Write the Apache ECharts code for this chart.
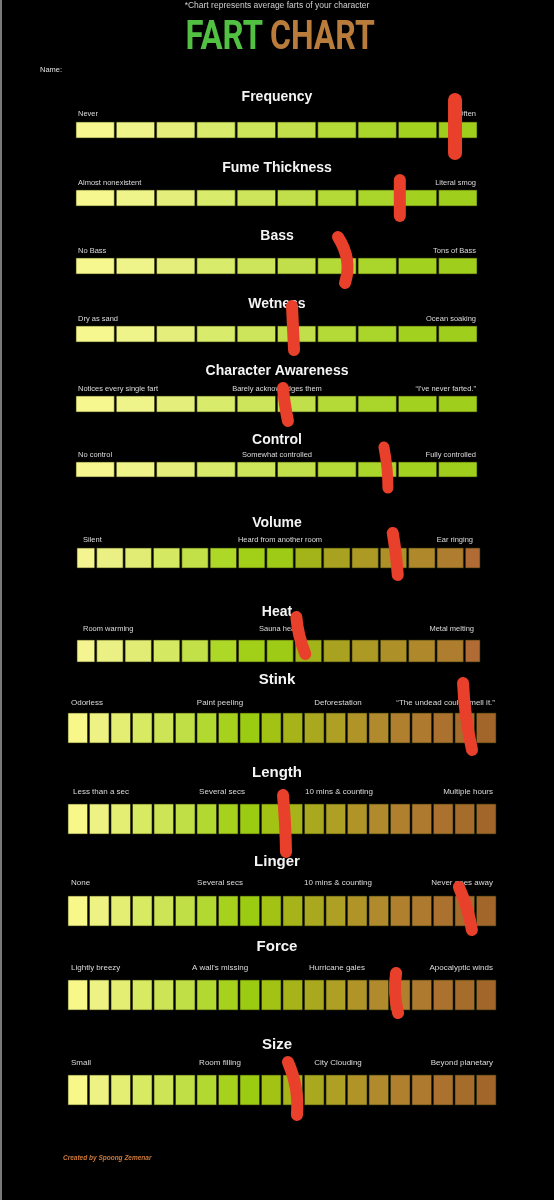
<html>
<head>
<meta charset="utf-8">
<!-- 引入 echarts.js -->
<script src="https://cdn.jsdelivr.net/npm/echarts@6/dist/echarts.min.js"></script>
<style>
	body{margin:0;padding:0;background:#000;}
	#main{width:554px;height:1200px;}
</style>
</head>
<body>
<div id="main"></div>
<script type="text/javascript">
	// 各项名称
	var scaleNames = ['Frequency', 'Fume Thickness', 'Bass', 'Wetness', 'Character Awareness', 'Control',
		'Volume', 'Heat', 'Stink', 'Length', 'Linger', 'Force', 'Size'];
	// 每一条的格子数
	var cellCounts = [10, 10, 10, 10, 10, 10, 15, 15, 20, 20, 20, 20, 20];
	// 红色记号的位置 (格子为单位, 0 = 最左)
	var ratings = [9.43, 8.06, 6.75, 5.41, 5.21, 7.74, 11.58, 8.18, 18.56, 10.14, 18.6, 15.26, 10.65];
	// 刻度文字
	var scaleLabels = [
		['Never', 'Often'],
		['Almost nonexistent', 'Literal smog'],
		['No Bass', 'Tons of Bass'],
		['Dry as sand', 'Ocean soaking'],
		['Notices every single fart', 'Barely acknowledges them', '\u201cI\'ve never farted.\u201d'],
		['No control', 'Somewhat controlled', 'Fully controlled'],
		['Silent', 'Heard from another room', 'Ear ringing'],
		['Room warming', 'Sauna heat', 'Metal melting'],
		['Odorless', 'Paint peeling', 'Deforestation', '\u201cThe undead could smell it.\u201d'],
		['Less than a sec', 'Several secs', '10 mins & counting', 'Multiple hours'],
		['None', 'Several secs', '10 mins & counting', 'Never goes away'],
		['Lightly breezy', 'A wall\'s missing', 'Hurricane gales', 'Apocalyptic winds'],
		['Small', 'Room filling', 'City Clouding', 'Beyond planetary']
	];

	// 格子颜色
	var colors10 = ['#f7f78f', '#eef38a', '#e3ef7a', '#d8eb6a', '#cde55a', '#c1df4a', '#b4da38', '#aad52a', '#a3d120', '#a0ce1c'];
	var colors15 = ['#f4f490', '#eaf084', '#e0ec74', '#d4e862', '#c2e048', '#aed828', '#a2d018', '#9ecc16', '#a2b41a',
		'#a8a220', '#ac9a24', '#ae9028', '#b0882c', '#ae7e2e', '#b06c34'];
	var colors20 = ['#f7f78a', '#eef282', '#e4ee72', '#d8ea62', '#cde456', '#c0de46', '#b2d832', '#a6d21e', '#9ccc12', '#a2c214',
		'#a6b41a', '#aaa81e', '#aea024', '#b09428', '#b08a2c', '#b0802e', '#ae7a30', '#aa722e', '#a66c2c', '#a2662a'];

	// 布局: 条的位置, 标题/文字位置, 红色记号的样式
	var layout = [
		{top: 122, h: 16, left: 75, width: 403, min: 0, max: 10, ty: 97, ly: 114, ts: 14, ls: 7.5, lx: [[78, 'left'], [476, 'right']], mk: [22, 15, 0, 0, 14]},
		{top: 190, h: 16, left: 75, width: 403, min: 0, max: 10, ty: 168, ly: 183, ts: 14, ls: 7.5, lx: [[78, 'left'], [476, 'right']], mk: [10, 10, 0, 0, 12]},
		{top: 258, h: 16, left: 75, width: 403, min: 0, max: 10, ty: 236, ly: 251, ts: 14, ls: 7.5, lx: [[78, 'left'], [476, 'right']], mk: [21, 9, -9, -2, 12]},
		{top: 326, h: 16, left: 75, width: 403, min: 0, max: 10, ty: 304, ly: 319, ts: 14, ls: 7.5, lx: [[78, 'left'], [476, 'right']], mk: [20, 8, -1, 1, 12]},
		{top: 396, h: 16, left: 75, width: 403, min: 0, max: 10, ty: 371, ly: 389, ts: 14, ls: 7.5, lx: [[78, 'left'], [277, 'center'], [476, 'right']], mk: [8, 9, -2, 3, 12]},
		{top: 462, h: 15, left: 75, width: 403, min: 0, max: 10, ty: 440, ly: 455, ts: 14, ls: 7.5, lx: [[78, 'left'], [277, 'center'], [476, 'right']], mk: [15, 11, -3, 1, 11]},
		{top: 548, h: 20, left: 77, width: 403, min: 0.34, max: 14.55, ty: 523, ly: 540, ts: 14, ls: 7.5, lx: [[83, 'left'], [280, 'center'], [473, 'right']], mk: [15, 7, -3, 2, 12]},
		{top: 640, h: 22, left: 77, width: 403, min: 0.34, max: 14.55, ty: 612, ly: 629, ts: 14, ls: 7.5, lx: [[83, 'left'], [259, 'left'], [474, 'right']], mk: [23, -8, -3, 6, 12]},
		{top: 713, h: 30, left: 67, width: 430, min: 0, max: 20, ty: 680, ly: 703, ts: 15, ls: 8, lx: [[71, 'left'], [220, 'center'], [338, 'center'], [495, 'right']], mk: [30, 7, -3, 6, 12]},
		{top: 804, h: 30, left: 67, width: 430, min: 0, max: 20, ty: 773, ly: 792, ts: 15, ls: 8, lx: [[73, 'left'], [222, 'center'], [339, 'center'], [493, 'right']], mk: [9, 18, -2, 1, 12]},
		{top: 896, h: 30, left: 67, width: 430, min: 0, max: 20, ty: 862, ly: 883, ts: 15, ls: 8, lx: [[71, 'left'], [220, 'center'], [338, 'center'], [493, 'right']], mk: [9, 4, -8, 5, 12]},
		{top: 980, h: 30, left: 67, width: 430, min: 0, max: 20, ty: 947, ly: 968, ts: 15, ls: 8, lx: [[71, 'left'], [220, 'center'], [337, 'center'], [493, 'right']], mk: [7, 3, 1, 3, 12]},
		{top: 1075, h: 30, left: 67, width: 430, min: 0, max: 20, ty: 1045, ly: 1063, ts: 15, ls: 8, lx: [[71, 'left'], [220, 'center'], [338, 'center'], [493, 'right']], mk: [13, 10, -8, 1, 12]}
	];

	var myChart = echarts.init(document.getElementById('main'), null, {renderer: 'canvas'});

	var grids = [], xAxes = [], yAxes = [], series = [];
	var graphics = [
		// 左边的灰线
		{type: 'rect', left: 0, top: 0, shape: {width: 2, height: 1200}, style: {fill: '#7a7a7a'}},
		{type: 'text', x: 277, y: 6, z: 1, style: {text: '*Chart represents average farts of your character', textAlign: 'center', textVerticalAlign: 'middle',
			font: '8.5px "Liberation Sans"', fill: '#d0d0d0'}},
		// 大标题, 压窄的粗体
		{type: 'text', x: 263, y: 39, z: 1, scaleX: 0.82, style: {text: 'FART', textAlign: 'right', textVerticalAlign: 'middle',
			font: 'bold 40px Roboto', fill: '#52c043'}},
		{type: 'text', x: 270, y: 39, z: 1, scaleX: 0.8, style: {text: 'CHART', textAlign: 'left', textVerticalAlign: 'middle',
			font: 'bold 40px Roboto', fill: '#b97c3b'}},
		{type: 'text', x: 40, y: 70, z: 1, style: {text: 'Name:', textAlign: 'left', textVerticalAlign: 'middle',
			font: '7.5px "Liberation Sans"', fill: '#e0e0e0'}},
		{type: 'text', x: 63, y: 1158, z: 1, style: {text: 'Created by Spoong Zemenar', textAlign: 'left', textVerticalAlign: 'middle',
			font: 'italic bold 6.5px "Liberation Sans"', fill: '#cf7a3a'}}
	];

	for (var s = 0; s < scaleNames.length; s++) {
		var L = layout[s];
		var n = cellCounts[s];
		var pal = n === 10 ? colors10 : (n === 15 ? colors15 : colors20);
		grids.push({left: L.left, top: L.top, width: L.width, height: L.h});
		xAxes.push({type: 'value', gridIndex: s, min: L.min, max: L.max, show: false});
		yAxes.push({type: 'value', gridIndex: s, min: 0, max: 1, show: false});

		var cells = [];
		for (var i = 0; i < n; i++) cells.push({value: [i], itemStyle: {color: pal[i]}});

		// 格子
		series.push({
			type: 'custom', xAxisIndex: s, yAxisIndex: s, data: cells, silent: true, z: 2,
			renderItem: function (params, api) {
				var i = api.value(0);
				var a = api.coord([i, 0]), b = api.coord([i + 1, 1]);
				var rect = echarts.graphic.clipRectByRect(
					{x: a[0] + 1, y: b[1], width: b[0] - a[0] - 2, height: a[1] - b[1]},
					params.coordSys);
				if (!rect) return;
				return {type: 'rect', shape: rect, style: {fill: api.visual('color'), stroke: '#2e3008', lineWidth: 0.6}};
			}
		});

		// 红色记号
		series.push({
			type: 'custom', xAxisIndex: s, yAxisIndex: s, data: [[ratings[s]]], silent: true, z: 10, clip: false,
			renderItem: (function (mk) {
				return function (params, api) {
					var top = api.coord([api.value(0), 1]);
					var bot = api.coord([api.value(0), 0]);
					var x = top[0];
					var y0 = top[1] - mk[0], y1 = bot[1] + mk[1];
					return {
						type: 'polyline',
						shape: {points: [[x + mk[2], y0], [x, (y0 + y1) / 2], [x + mk[3], y1]], smooth: 0.5},
						style: {stroke: '#e8402a', lineWidth: mk[4], lineCap: 'round', lineJoin: 'round', fill: null}
					};
				};
			})(L.mk)
		});

		// 标题
		graphics.push({type: 'text', x: 277, y: L.ty, z: 1, style: {text: scaleNames[s], textAlign: 'center', textVerticalAlign: 'middle',
			font: 'bold ' + L.ts + 'px "Liberation Sans"', fill: '#f4f4f4'}});
		// 刻度文字
		for (var k = 0; k < scaleLabels[s].length; k++) {
			graphics.push({type: 'text', x: L.lx[k][0], y: L.ly, z: 1, style: {text: scaleLabels[s][k], textAlign: L.lx[k][1],
				textVerticalAlign: 'middle', font: L.ls + 'px "Liberation Sans"', fill: '#dcdcdc'}});
		}
	}

	myChart.setOption({
		backgroundColor: '#000',
		animation: false,
		grid: grids,
		xAxis: xAxes,
		yAxis: yAxes,
		series: series,
		graphic: graphics
	});
</script>
</body>
</html>
